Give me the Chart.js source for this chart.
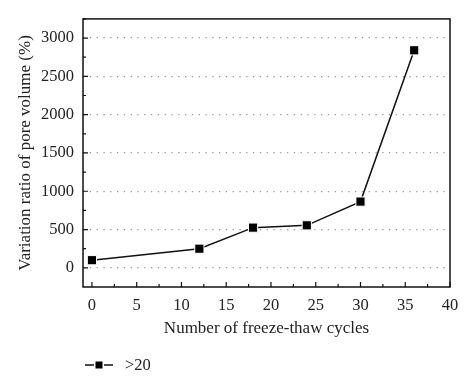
<!DOCTYPE html>
<html>
<head>
<meta charset="utf-8">
<script src="https://cdn.jsdelivr.net/npm/chart.js@4"></script>
<style>
  html, body { margin: 0; padding: 0; background: #fff; }
  #wrap { width: 474px; height: 391px; }
</style>
</head>
<body>
<div id="wrap"><canvas id="chart" width="474" height="391"></canvas></div>
<script>
// data
let cycles = [0, 12, 18, 24, 30, 36]
let ratio = [100, 250, 525, 555, 865, 2840]
let seriesName = '>20'

// tick labels
let xTicks = [0, 5, 10, 15, 20, 25, 30, 35, 40]
let yTicks = [0, 500, 1000, 1500, 2000, 2500, 3000]

let serif = "'Liberation Serif', 'DejaVu Serif', serif"

// frame, inward ticks, legend
let framePlugin = {
    id: 'frame',
    afterDraw(chart) {
        let ctx = chart.ctx
        let a = chart.chartArea
        let xs = chart.scales.x
        let ys = chart.scales.y
        ctx.save()
        ctx.strokeStyle = '#111'
        ctx.lineWidth = 1.5
        ctx.strokeRect(a.left, a.top, a.right - a.left, a.bottom - a.top)

        ctx.lineWidth = 1.2
        ctx.beginPath()
        // x ticks, major + minor
        for (let i = 0; i < xTicks.length; i++) {
            let px = xs.getPixelForValue(xTicks[i])
            ctx.moveTo(px, a.bottom)
            ctx.lineTo(px, a.bottom - 5)
            if (i < xTicks.length - 1) {
                let mx = xs.getPixelForValue((xTicks[i] + xTicks[i + 1]) / 2)
                ctx.moveTo(mx, a.bottom)
                ctx.lineTo(mx, a.bottom - 3)
            }
        }
        // y ticks, major + minor
        for (let i = 0; i < yTicks.length; i++) {
            let py = ys.getPixelForValue(yTicks[i])
            ctx.moveTo(a.left, py)
            ctx.lineTo(a.left + 5, py)
            let my = ys.getPixelForValue(yTicks[i] + 250)
            ctx.moveTo(a.left, my)
            ctx.lineTo(a.left + 3, my)
        }
        ctx.stroke()

        // legend
        let ly = 365
        ctx.strokeStyle = '#111'
        ctx.lineWidth = 1.5
        ctx.beginPath()
        ctx.moveTo(85, ly)
        ctx.lineTo(113, ly)
        ctx.stroke()
        ctx.fillStyle = '#fff'
        ctx.fillRect(94, ly - 5, 10, 10)
        ctx.fillStyle = '#000'
        ctx.fillRect(95.5, ly - 3.5, 7, 7)
        ctx.fillStyle = '#222'
        ctx.font = '16.5px ' + serif
        ctx.textBaseline = 'middle'
        ctx.fillText(chart.data.datasets[0].label, 125, ly + 1)
        ctx.restore()
    }
}

let ctx = document.getElementById('chart').getContext('2d')
let chart = new Chart(ctx, {
    type: 'line',
    data: {
        datasets: [
            {
                label: seriesName,
                data: cycles.map((c, i) => ({ x: c, y: ratio[i] })),
                borderColor: '#111',
                borderWidth: 1.5,
                backgroundColor: '#000',
                pointStyle: 'rect',
                pointRadius: 6.5,
                pointBackgroundColor: '#000',
                pointBorderColor: '#fff',
                pointBorderWidth: 1,
                tension: 0
            }
        ]
    },
    options: {
        responsive: false,
        animation: false,
        layout: { padding: { left: 0, top: 16, right: 24, bottom: 0 } },
        plugins: {
            legend: { display: false },
            tooltip: { enabled: false }
        },
        scales: {
            x: {
                type: 'linear',
                min: -1,
                max: 40,
                afterBuildTicks: (s) => { s.ticks = xTicks.map(v => ({ value: v })) },
                afterFit: (s) => { s.height = 104 },
                grid: { display: false, drawTicks: false },
                border: { display: false },
                ticks: {
                    color: '#222',
                    padding: 9,
                    maxRotation: 0,
                    callback: (v) => String(v),
                    font: { family: serif, size: 16.5 }
                },
                title: {
                    display: true,
                    text: 'Number of freeze-thaw cycles',
                    color: '#222',
                    padding: 52,
                    font: { family: serif, size: 17 }
                }
            },
            y: {
                min: -250,
                max: 3250,
                afterBuildTicks: (s) => { s.ticks = yTicks.map(v => ({ value: v })) },
                afterFit: (s) => { s.width = 83 },
                grid: { color: '#999', lineWidth: 1.3, drawTicks: false },
                border: { display: false, dash: [1.3, 5.5] },
                ticks: {
                    color: '#222',
                    padding: 9,
                    callback: (v) => String(v),
                    font: { family: serif, size: 16.5 }
                },
                title: {
                    display: true,
                    text: 'Variation ratio of pore volume (%)',
                    color: '#222',
                    padding: 15,
                    font: { family: serif, size: 17 }
                }
            }
        }
    },
    plugins: [framePlugin]
})
</script>
</body>
</html>
